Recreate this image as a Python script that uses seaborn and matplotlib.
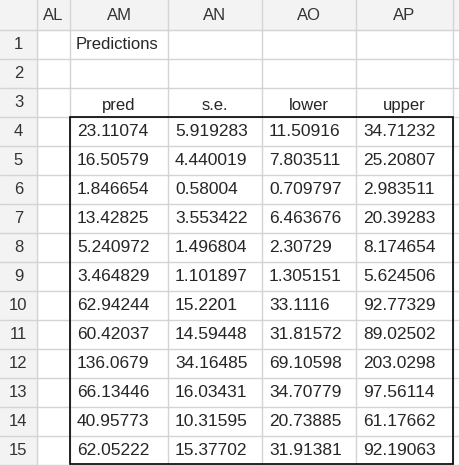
import matplotlib
matplotlib.use("Agg")
import matplotlib.pyplot as plt
import seaborn as sns

sns.set_style("white")
plt.rcParams['font.family'] = ['Liberation Sans', 'DejaVu Sans']

col_letters = ["AL", "AM", "AN", "AO", "AP"]
headers = ["pred", "s.e.", "lower", "upper"]
pred = ["23.11074", "16.50579", "1.846654", "13.42825", "5.240972", "3.464829",
        "62.94244", "60.42037", "136.0679", "66.13446", "40.95773", "62.05222"]
se = ["5.919283", "4.440019", "0.58004", "3.553422", "1.496804", "1.101897",
      "15.2201", "14.59448", "34.16485", "16.03431", "10.31595", "15.37702"]
lower = ["11.50916", "7.803511", "0.709797", "6.463676", "2.30729", "1.305151",
         "33.1116", "31.81572", "69.10598", "34.70779", "20.73885", "31.91381"]
upper = ["34.71232", "25.20807", "2.983511", "20.39283", "8.174654", "5.624506",
         "92.77329", "89.02502", "203.0298", "97.56114", "61.17662", "92.19063"]

# pixel layout
col_edges = [0, 37, 70, 168, 262, 356, 453]
head_h = 30
row_h = 29
n_rows = 15

fig = plt.figure(figsize=(4.6, 4.65), dpi=100)
ax = fig.add_axes([0, 0, 1, 1])
ax.set_xlim(0, 460)
ax.set_ylim(465, 0)
ax.axis("off")

grid = "#d4d4d4"
ax.add_patch(plt.Rectangle((0, 0), 460, head_h, color="#f3f3f3", zorder=0))
ax.add_patch(plt.Rectangle((0, 0), col_edges[1], 465, color="#f3f3f3", zorder=0))
for x in col_edges[1:]:
    ax.plot([x, x], [0, 465], color=grid, lw=1, zorder=1)
for r in range(n_rows + 1):
    y = head_h + r * row_h
    ax.plot([0, 460], [y, y], color=grid, lw=1, zorder=1)

for i, lab in enumerate(col_letters):
    xc = (col_edges[i + 1] + col_edges[i + 2]) / 2
    ax.text(xc, head_h / 2, lab, ha="center", va="center", fontsize=12, color="#333333")
for r in range(1, n_rows + 1):
    yc = head_h + (r - 0.5) * row_h
    ax.text(col_edges[1] / 2, yc, str(r), ha="center", va="center", fontsize=12, color="#333333")

def ycen(r):
    return head_h + (r - 0.5) * row_h

ax.text(col_edges[2] + 6, ycen(1), "Predictions", ha="left", va="center", fontsize=12)
for j, h in enumerate(headers):
    xc = (col_edges[j + 2] + col_edges[j + 3]) / 2
    ax.text(xc, ycen(3) + 3, h, ha="center", va="center", fontsize=12)

# numbers are left aligned in the cells
for j, series in enumerate([pred, se, lower, upper]):
    for k, v in enumerate(series):
        ax.text(col_edges[j + 2] + 7, ycen(k + 4), v, ha="left", va="center", fontsize=12.5)

top = head_h + 3 * row_h
ax.add_patch(plt.Rectangle((col_edges[2], top), col_edges[6] - col_edges[2], 465 - top - 1,
                           fill=False, edgecolor="black", lw=1.2, zorder=3))

fig.savefig("out.png", dpi=100)
